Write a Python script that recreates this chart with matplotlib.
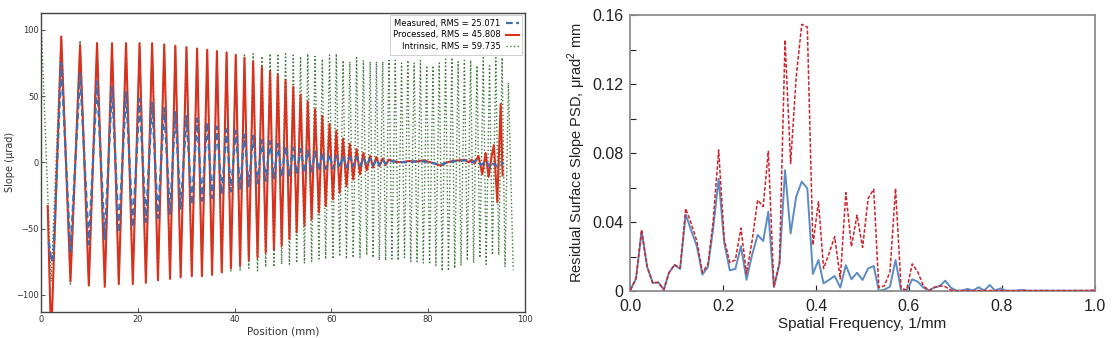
import matplotlib
matplotlib.use("Agg")
import matplotlib.pyplot as plt

plt.rcParams['mathtext.fontset'] = 'custom'
plt.rcParams['mathtext.rm'] = 'Liberation Sans'

# ---------------- left panel: slope profiles (turning points, mm / urad) ----------------
intr_x = [0.0, 2.0, 4.1, 6.0, 8.0, 9.8, 11.5, 13.1, 14.6, 16.0, 17.5, 18.9, 20.3, 21.6,
          22.9, 24.1, 25.4, 26.6, 27.7, 28.8, 30.0, 31.1, 32.2, 33.2, 34.3, 35.3, 36.3, 37.3,
          38.3, 39.2, 40.2, 41.1, 42.0, 42.9, 43.8, 44.7, 45.6, 46.4, 47.3, 48.1, 48.9, 49.7,
          50.5, 51.3, 52.1, 52.8, 53.6, 54.4, 55.1, 55.9, 56.6, 57.4, 58.1, 58.8, 59.6, 60.3,
          61.0, 61.7, 62.4, 63.1, 63.8, 64.5, 65.2, 65.9, 66.6, 67.3, 68.0, 68.6, 69.3, 69.9,
          70.6, 71.2, 71.9, 72.5, 73.2, 73.8, 74.5, 75.1, 75.8, 76.4, 77.1, 77.7, 78.4, 79.0,
          79.7, 80.3, 81.0, 81.6, 82.3, 82.9, 83.6, 84.2, 84.9, 85.5, 86.2, 86.8, 87.5, 88.1,
          88.8, 89.4, 90.1, 90.7, 91.4, 92.0, 92.7, 93.3, 94.0, 94.6, 95.3, 95.9, 96.6, 97.6]
intr_y = [100, -90, 95, -92, 92, -93, 90, -93, 90, -92, 90, -91, 90, -90,
          90, -89, 89, -87, 88, -87, 87, -86, 86, -85, 85, -84, 84, -84,
          83, -82, 82, -82, 81, -80, 82, -82, 80, -79, 82, -79, 82, -77,
          82, -77, 81, -76, 80, -76, 82, -75, 80, -73, 78, -73, 81, -73,
          82, -71, 77, -73, 76, -72, 79, -72, 77, -70, 76, -72, 76, -74,
          76, -74, 77, -73, 77, -74, 75, -72, 77, -75, 75, -75, 77, -76,
          73, -77, 73, -78, 75, -82, 78, -82, 79, -80, 76, -78, 77, -74,
          77, -76, 73, -72, 79, -77, 73, -70, 79, -70, 79, -79, 60, -81]

proc_x = [1.3, 2.0] + intr_x[2:73] + [73.0, 74.5, 76.0, 77.5, 79.0, 80.5, 81.8, 82.6, 83.5,
          85.0, 86.5, 87.6, 88.3, 89.0, 89.6, 90.4, 91.2, 91.9, 92.5, 93.1, 93.6, 94.3,
          95.0, 95.4]
proc_y = [-33, -135,
          95, -90, 89, -93, 90, -94, 90, -92, 90, -92, 90, -91, 90, -89, 89, -88,
          88, -87, 87, -86, 86, -86, 85, -85, 84, -83, 83, -80, 81, -78, 79, -74,
          76, -72, 72, -68, 69, -66, 66, -63, 62, -58, 57, -53, 51, -48, 46, -43,
          40, -38, 35, -33, 29, -28, 24, -23, 18, -18, 14, -13, 10, -9, 7, -6,
          5, -4, 4, -3, 3, -2, 2,
          0.5, 0, 1, 0.5, 1.5, 0, -1.5, -2.5, -0.5, 1, 1.5, 2, 0, 2, -1, 5, -9, 7,
          -11, 4, 13, -30, 44, -10]

meas_x = [1.5, 2.1, 2.5] + intr_x[2:73] + [73.5, 75.5, 78.0, 80.5, 82.5, 84.0, 86.0, 88.0,
          89.0, 90.0, 91.0, 92.0, 92.8, 93.5, 94.2, 95.0, 95.6]
meas_y = [-60, -75, -70,
          75, -68, 67, -62, 61, -58, 57, -53, 53, -49, 48, -45, 45, -42, 41, -39,
          38, -35, 35, -32, 33, -29, 30, -27, 27, -24, 25, -22, 24, -20, 21, -18,
          20, -16, 17, -14, 16, -12, 14, -11, 12, -10, 11, -9, 10, -8, 9, -7,
          8, -6, 7, -5, 6, -5, 5, -4, 5, -4, 4, -3, 4, -3, 3, -2, 3, -2,
          2, -2, 2, -1, 1,
          0.5, 0, 1, 0, -2, 0, 1, 1.5, 0, 1.5, -2, 1, -4, -1, -3, -2, 0]

legend_labels = ['Measured, RMS = 25.071', 'Processed, RMS = 45.808', 'Intrinsic, RMS = 59.735']

# ---------------- right panel: residual slope PSD ----------------
freq = [0.000, 0.012, 0.024, 0.036, 0.048, 0.060, 0.072, 0.083, 0.095, 0.107,
        0.119, 0.131, 0.143, 0.155, 0.167, 0.178, 0.190, 0.202, 0.214, 0.226,
        0.238, 0.250, 0.262, 0.274, 0.286, 0.297, 0.309, 0.321, 0.333, 0.345,
        0.357, 0.369, 0.381, 0.393, 0.405, 0.416, 0.428, 0.440, 0.452, 0.464,
        0.476, 0.488, 0.500, 0.512, 0.524, 0.535, 0.547, 0.559, 0.571, 0.583,
        0.595, 0.607, 0.619, 0.631, 0.643, 0.654, 0.666, 0.678, 0.690, 0.702,
        0.714, 0.726, 0.738, 0.750, 0.762, 0.774, 0.785, 0.797, 0.809, 0.821,
        0.833, 0.845, 0.857, 0.869, 0.881, 0.893, 0.905, 0.917, 0.929, 0.940,
        0.952, 0.964, 0.976, 0.988, 1.000]
psd_red = [0.0006, 0.0072, 0.0355, 0.0140, 0.0047, 0.0050, 0.0008, 0.0106, 0.0153, 0.0133,
           0.0478, 0.0390, 0.0290, 0.0108, 0.0155, 0.0400, 0.0817, 0.0300, 0.0165, 0.0180,
           0.0365, 0.0100, 0.0290, 0.0527, 0.0490, 0.0810, 0.0025, 0.0160, 0.1455, 0.0740,
           0.1240, 0.1546, 0.1530, 0.0267, 0.0518, 0.0130, 0.0220, 0.0315, 0.0070, 0.0570,
           0.0257, 0.0440, 0.0253, 0.0537, 0.0590, 0.0020, 0.0030, 0.0110, 0.0595, 0.0015,
           0.0006, 0.0157, 0.0110, 0.0030, 0.0003, 0.0020, 0.0030, 0.0025, 0.0006, 0.0002,
           0.0002, 0.0003, 0.0002, 0.0003, 0.0002, 0.0003, 0.0002, 0.0003, 0.0002, 0.0002,
           0.0002, 0.0003, 0.0002, 0.0002, 0.0003, 0.0002, 0.0002, 0.0002, 0.0003, 0.0002,
           0.0002, 0.0003, 0.0002, 0.0003, 0.0004]
psd_blue = [0.0006, 0.0072, 0.0345, 0.0140, 0.0047, 0.0050, 0.0008, 0.0106, 0.0150, 0.0128,
            0.0443, 0.0350, 0.0260, 0.0095, 0.0140, 0.0360, 0.0650, 0.0280, 0.0120, 0.0128,
            0.0260, 0.0065, 0.0210, 0.0325, 0.0290, 0.0460, 0.0022, 0.0160, 0.0700, 0.0334,
            0.0547, 0.0634, 0.0595, 0.0099, 0.0180, 0.0044, 0.0065, 0.0087, 0.0020, 0.0150,
            0.0068, 0.0106, 0.0064, 0.0131, 0.0145, 0.0002, 0.0008, 0.0025, 0.0180, 0.0002,
            0.0002, 0.0068, 0.0054, 0.0020, 0.0003, 0.0020, 0.0028, 0.0060, 0.0020, 0.0002,
            0.0003, 0.0012, 0.0003, 0.0022, 0.0003, 0.0035, 0.0003, 0.0015, 0.0002, 0.0002,
            0.0003, 0.0006, 0.0002, 0.0002, 0.0002, 0.0003, 0.0002, 0.0002, 0.0002, 0.0002,
            0.0002, 0.0002, 0.0002, 0.0002, 0.0003]

fig = plt.figure(figsize=(11.2, 3.38), dpi=100)

# ---- left
ax1 = fig.add_axes([0.037, 0.077, 0.4316, 0.8855])
ax1.plot(meas_x, meas_y, color='#3d6fb0', lw=1.6, ls='--', dashes=(3, 1.6), zorder=4,
         label=legend_labels[0])
ax1.plot(proc_x, proc_y, color='#d8321f', lw=1.5, zorder=3, label=legend_labels[1])
ax1.plot(intr_x, intr_y, color='#3f7a3a', lw=1.0, ls=':', zorder=2, label=legend_labels[2])
ax1.set_xlim(0, 100)
ax1.set_ylim(-113, 113)
ax1.set_yticks([-100, -50, 0, 50, 100])
ax1.set_xticks([0, 20, 40, 60, 80, 100])
ax1.tick_params(direction='in', labelsize=6, colors='#333333', length=3, width=0.6, pad=2)
for s in ax1.spines.values():
    s.set_color('#444444')
    s.set_linewidth(1.0)
ax1.set_xlabel('Position (mm)', fontsize=7.5, color='#333333', labelpad=2)
ax1.set_ylabel('Slope (μrad)', fontsize=7, color='#333333', labelpad=1)
leg = ax1.legend(loc='upper right', fontsize=6, markerfirst=False, handlelength=1.6,
                 fancybox=False, borderpad=0.4, labelspacing=0.35, borderaxespad=0.3,
                 handletextpad=0.6)
leg.get_frame().set_edgecolor('#bbbbbb')
leg.get_frame().set_linewidth(0.6)

# ---- right
ax2 = fig.add_axes([0.5629, 0.139, 0.4145, 0.8166])
ax2.plot(freq, psd_blue, color='#5b8cc4', lw=1.4, zorder=2)
ax2.plot(freq, psd_red, color='#d0232b', lw=1.1, ls='--', dashes=(2.5, 1.2), zorder=3)
ax2.set_xlim(0, 1.0)
ax2.set_ylim(0, 0.16)
ax2.set_xticks([0.0, 0.2, 0.4, 0.6, 0.8, 1.0])
ax2.set_xticklabels(['0.0', '0.2', '0.4', '0.6', '0.8', '1.0'])
ax2.set_yticks([0, 0.04, 0.08, 0.12, 0.16])
ax2.set_yticklabels(['0', '0.04', '0.08', '0.12', '0.16'])
ax2.set_yticks([0.02, 0.06, 0.10, 0.14], minor=True)
ax2.tick_params(which='both', direction='in', labelsize=11.5, colors='#222222',
                length=4, width=0.8, labelfontfamily='Liberation Sans')
ax2.tick_params(axis='x', pad=6)
ax2.tick_params(axis='y', pad=5)
for s in ax2.spines.values():
    s.set_color('#8c8c8c')
    s.set_linewidth(1.3)
ax2.set_xlabel('Spatial Frequency, 1/mm', fontsize=11, family='Liberation Sans',
               color='#222222', labelpad=2)
ax2.set_ylabel('Residual Surface Slope PSD, μrad$^2$ mm', fontsize=10.5,
               family='Liberation Sans', color='#222222', labelpad=3)

fig.savefig('out.png', dpi=100)
